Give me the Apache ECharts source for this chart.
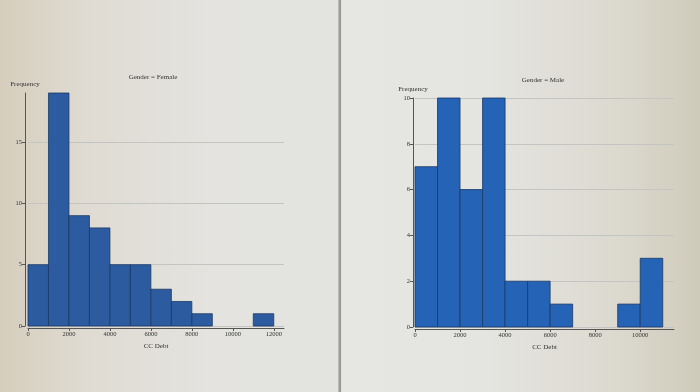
<!DOCTYPE html>
<html>
<head>
<meta charset="utf-8">
<script src="https://cdn.jsdelivr.net/npm/echarts@6/dist/echarts.min.js"></script>
<style>
html,body{margin:0;padding:0;}
body{width:700px;height:392px;overflow:hidden;
background:linear-gradient(90deg,#d6cdbd 0%,#dfdbd2 12%,#e4e3df 30%,#e3e3e0 48.3%,#9c9b97 48.4%,#9c9b97 48.7%,#e6e6e3 48.8%,#e4e4e0 70%,#dcd9cf 88%,#cfcbbb 100%);}
#c{width:700px;height:392px;}
</style>
</head>
<body>
<div id="c"></div>
<script>
// Bin edges (CC Debt, width 1000)
const femaleBinStarts = [0,1000,2000,3000,4000,5000,6000,7000,8000,9000,10000,11000];
const femaleCounts    = [5,19,9,8,5,5,3,2,1,0,0,1];
const maleBinStarts   = [0,1000,2000,3000,4000,5000,6000,7000,8000,9000,10000];
const maleCounts      = [7,10,6,10,2,2,1,0,0,1,3];
const binWidth = 1000;
const femaleXTicks = [0,2000,4000,6000,8000,10000,12000];
const femaleYTicks = [0,5,10,15];
const maleXTicks   = [0,2000,4000,6000,8000,10000];
const maleYTicks   = [0,2,4,6,8,10];

const serif = 'Liberation Serif';
const txt = '#333333';
const plain = v => String(v);

function bins(starts, counts){
  return starts.map((s,i)=>[s, s+binWidth, counts[i]]).filter(d=>d[2]>0);
}
function renderHist(fill){
  return function(params, api){
    const p0 = api.coord([api.value(0), api.value(2)]);
    const p1 = api.coord([api.value(1), 0]);
    return {type:'rect', shape:{x:p0[0], y:p0[1], width:p1[0]-p0[0], height:p1[1]-p0[1]},
      style:{fill:fill, stroke:'#1a3866', lineWidth:0.8}};
  };
}
function xAx(idx, max, ticks, offset){
  return {gridIndex:idx, type:'value', min:0, max:max, interval:2000, offset:offset,
    name:'CC Debt', nameLocation:'middle', nameGap:10,
    nameTextStyle:{fontFamily:serif, fontSize:7, color:txt},
    axisLine:{onZero:false, lineStyle:{color:'#555', width:1}},
    axisTick:{customValues:ticks, length:3, lineStyle:{color:'#555'}},
    axisLabel:{customValues:ticks, formatter:plain, fontFamily:serif, fontSize:6.5, color:txt, margin:3},
    splitLine:{show:false}};
}
function yAx(idx, max, interval, ticks, offset, gap){
  return {gridIndex:idx, type:'value', min:0, max:max, interval:interval, offset:offset,
    name:'Frequency', nameLocation:'end', nameGap:gap,
    nameTextStyle:{fontFamily:serif, fontSize:7, color:txt, align:'center'},
    axisLine:{show:true, onZero:false, lineStyle:{color:'#555', width:1}},
    axisTick:{show:true, customValues:ticks, length:3, lineStyle:{color:'#555'}},
    axisLabel:{customValues:ticks, formatter:plain, fontFamily:serif, fontSize:6.5, color:txt, margin:3},
    splitLine:{show:true, customValues:ticks, lineStyle:{color:'#c4c4c2', width:1}}};
}

const chart = echarts.init(document.getElementById('c'), null, {renderer:'canvas'});
chart.setOption({
  backgroundColor:'transparent',
  animation:false,
  title:[
    {text:'Gender = Female', left:148, top:69, textAlign:'center',
     textStyle:{fontFamily:serif, fontSize:7, fontWeight:'normal', color:txt}},
    {text:'Gender = Male', left:538, top:72, textAlign:'center',
     textStyle:{fontFamily:serif, fontSize:7, fontWeight:'normal', color:txt}}
  ],
  grid:[
    {left:28, width:256, top:93, height:233},
    {left:415, width:259, top:98, height:229}
  ],
  xAxis:[ xAx(0, 12500, femaleXTicks, 2), xAx(1, 11500, maleXTicks, 2) ],
  yAxis:[ yAx(0, 19, 5, femaleYTicks, 3, 5), yAx(1, 10, 2, maleYTicks, 2, 5) ],
  series:[
    {type:'custom', xAxisIndex:0, yAxisIndex:0, renderItem:renderHist('#2c5c9f'),
     encode:{x:[0,1], y:2}, data:bins(femaleBinStarts, femaleCounts)},
    {type:'custom', xAxisIndex:1, yAxisIndex:1, renderItem:renderHist('#2563b6'),
     encode:{x:[0,1], y:2}, data:bins(maleBinStarts, maleCounts)}
  ]
});
</script>
</body>
</html>
